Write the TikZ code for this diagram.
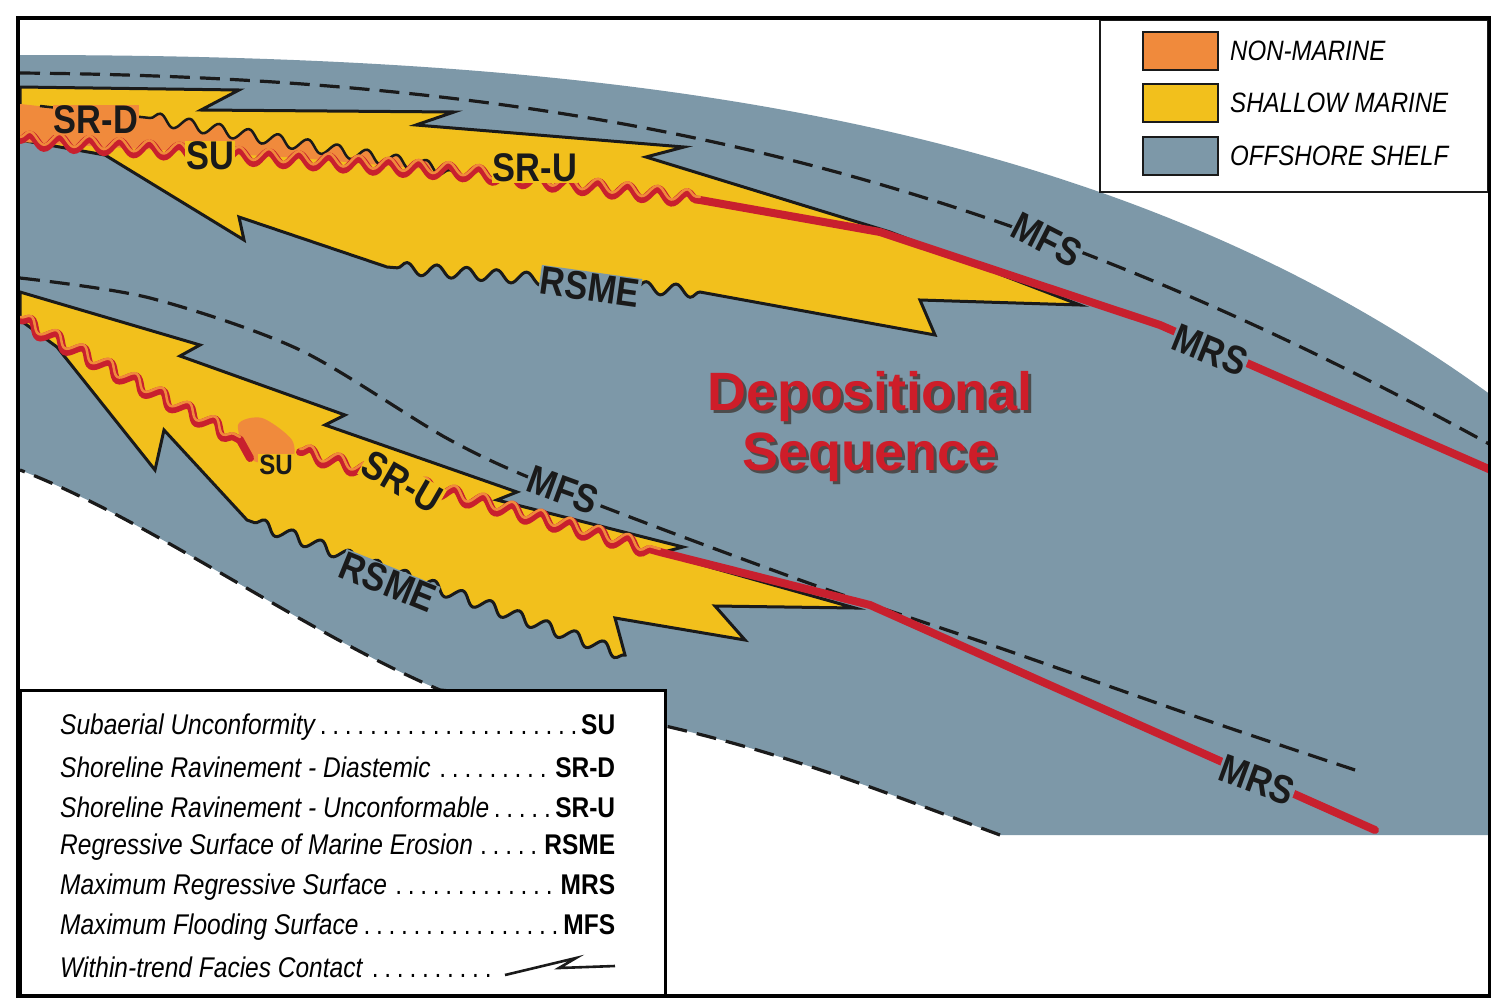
\documentclass[tikz,border=0pt]{standalone}
\usepackage{fontspec}
\setmainfont{Liberation Sans}
\newfontfamily\narrowf[FakeStretch=0.86]{Liberation Sans}
\usetikzlibrary{decorations.pathmorphing}
\definecolor{shelf}{HTML}{7D98A8}
\definecolor{shallow}{HTML}{F2C01C}
\definecolor{nonmar}{HTML}{F08A3C}
\definecolor{srred}{HTML}{C8202E}
\definecolor{ink}{HTML}{1A1A1A}
\tikzset{
 wav/.style={decorate,decoration={snake,segment length=30pt,amplitude=6pt}},
 edge/.style={draw=ink,line width=3pt,line join=miter},
 dsh/.style={draw=ink,line width=3.2pt,dash pattern=on 20pt off 10pt},
 redl/.style={draw=srred,line width=8pt,line cap=round},
 redh/.style={draw=nonmar,line width=2.5pt,line cap=round},
 lab/.style={font=\narrowf\bfseries\fontsize{40}{40}\selectfont,text=ink,inner sep=1pt},
 leg/.style={font=\narrowf\fontsize{28.5}{28.5}\selectfont,anchor=west,inner sep=0pt},
 sw/.style={draw=ink,line width=2.5pt},
}
\begin{document}
\begin{tikzpicture}[x=1pt,y=-1pt]
\useasboundingbox (0,0) rectangle (1491,999);
\fill[white] (0,0) rectangle (1491,999);
% offshore shelf body
\fill[shelf] (20,55) .. controls (600,55) and (1100,110) .. (1491,395) -- (1491,835) -- (1000,835)
  .. controls (850,780) and (700,715) .. (440,690) .. controls (300,630) and (150,520) .. (20,470) -- cycle;
\draw[dsh] (1000,835) .. controls (850,780) and (700,715) .. (440,690) .. controls (300,630) and (150,520) .. (20,470);
% dashed MFS lines
\draw[dsh] (20,73) .. controls (600,78) and (1000,175) .. (1491,445);
\draw[dsh] plot[smooth] coordinates {(20,278) (150,298) (300,350) (450,440) (560,490) (800,580) (1000,648) (1200,718) (1355,770)};
% upper shallow marine
\path[fill=shallow,edge] (20,87) -- (239,90) -- (201,110) -- (454,112) -- (416,125) -- (684,147) -- (646,157) -- (890,232) -- (1080,305)
 -- (920,300) -- (935,335) -- (700,292) decorate[wav]{-- (387,267)} -- (239,217) -- (244,240) -- (105,155) -- (20,140) -- cycle;
% upper non-marine
\path[fill=nonmar] (20,104) -- (150,118) decorate[wav]{-- (460,172)} -- (300,158) -- (20,142) -- cycle;
\draw[ink,line width=2.5pt] (40,106) -- (150,118) decorate[wav]{-- (460,172)};
% upper red surfaces
\draw[redl] (20,140) decorate[wav]{-- (460,172) -- (700,200)} -- (880,232) -- (1160,325) -- (1491,470);
\draw[redh] ([yshift=3pt]20,140) decorate[wav]{-- ([yshift=3pt]460,172) -- ([yshift=3pt]700,200)};
% lower shallow marine
\path[fill=shallow,edge] (20,292) -- (200,345) -- (180,356) -- (345,415) -- (325,425) -- (517,492) -- (497,500) -- (683,547) -- (660,553) -- (855,608)
 -- (715,606) -- (745,640) -- (615,618) -- (625,655) decorate[wav]{-- (247,520)} -- (164,430) -- (155,470) -- (57,347) -- (20,320) -- cycle;
\fill[nonmar] plot[smooth cycle] coordinates {(238,425) (262,418) (292,440) (290,462) (252,460)};
\draw[redl] (20,320) decorate[wav]{-- (240,440)} -- (250,458);
\draw[redl] (300,452) decorate[wav]{-- (660,552)} -- (870,605) -- (1375,830);
\draw[redh] ([yshift=3pt]20,320) decorate[wav]{-- ([yshift=3pt]240,440)};
\draw[redh] ([yshift=3pt]300,452) decorate[wav]{-- ([yshift=3pt]660,552)};
% labels
\node[lab,fill=nonmar] (srd) at (96,120) {SR-D};
\node[lab,fill=shallow] (su1) at (210,156) {SU};
\node[lab,fill=shallow] (sru1) at (535,168) {SR-U};
\node[lab,fill=shelf,rotate=-8] (rsme1) at (590,287) {RSME};
\node[lab,fill=shelf,rotate=-27] (mfs1) at (1047,240) {MFS};
\node[lab,fill=shelf,rotate=-22] (mrs1) at (1210,350) {MRS};
\node[lab,fill=shallow,font=\narrowf\bfseries\fontsize{28}{28}\selectfont] (su2) at (276,465) {SU};
\node[lab,fill=shallow,rotate=-30] (sru2) at (402,482) {SR-U};
\node[lab,fill=shelf,rotate=-20] (mfs2) at (563,490) {MFS};
\node[lab,fill=shelf,rotate=-22] (rsme2) at (388,582) {RSME};
\node[lab,fill=shelf,rotate=-20] (mrs2) at (1257,780) {MRS};
% title
\node[font=\bfseries\fontsize{54}{60}\selectfont,text=black!70,align=center] at (873,430) {Depositional\\Sequence};
\node[font=\bfseries\fontsize{54}{60}\selectfont,text=srred!90!red,align=center] (title) at (870,427) {Depositional\\Sequence};
% facies legend
\draw[sw,fill=white] (1100,20) rectangle (1488,192);
\draw[sw,fill=nonmar] (1143,32) rectangle (1218,70);
\draw[sw,fill=shallow] (1143,84) rectangle (1218,122);
\draw[sw,fill=shelf] (1143,137) rectangle (1218,175);
\node[leg,font=\narrowf\itshape\fontsize{28}{28}\selectfont] (l1) at (1230,51) {NON-MARINE};
\node[leg,font=\narrowf\itshape\fontsize{28}{28}\selectfont] (l2) at (1230,103) {SHALLOW MARINE};
\node[leg,font=\narrowf\itshape\fontsize{28}{28}\selectfont] (l3) at (1230,156) {OFFSHORE SHELF};
% surface legend
\draw[line width=3pt,fill=white] (20,690) rectangle (665,995);
\node[leg] (k1) at (60,727) {\makebox[555pt][l]{\textit{Subaerial Unconformity}\dotfill\textbf{SU}}};
\node[leg] (k2) at (60,767) {\makebox[555pt][l]{\textit{Shoreline Ravinement - Diastemic}\dotfill\textbf{SR-D}}};
\node[leg] (k3) at (60,807) {\makebox[555pt][l]{\textit{Shoreline Ravinement - Unconformable}\dotfill\textbf{SR-U}}};
\node[leg] (k4) at (60,847) {\makebox[555pt][l]{\textit{Regressive Surface of Marine Erosion}\dotfill\textbf{RSME}}};
\node[leg] (k5) at (60,887) {\makebox[555pt][l]{\textit{Maximum Regressive Surface}\dotfill\textbf{MRS}}};
\node[leg] (k6) at (60,927) {\makebox[555pt][l]{\textit{Maximum Flooding Surface}\dotfill\textbf{MFS}}};
\node[leg] (k7) at (60,967) {\makebox[440pt][l]{\textit{Within-trend Facies Contact}\dotfill}};
\draw[ink,line width=2.6pt] (505,975) -- (576,958) -- (559,968) -- (615,966);
% frame
\draw[line width=3.5pt] (18,18) rectangle (1490,996);
\end{tikzpicture}
\end{document}
